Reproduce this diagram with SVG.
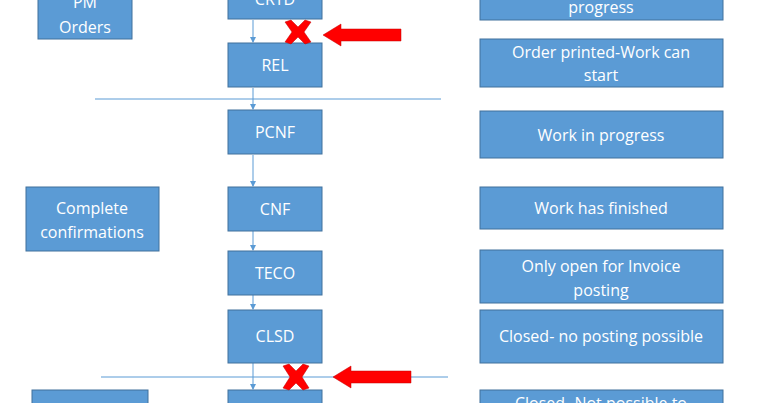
<svg xmlns="http://www.w3.org/2000/svg" width="768" height="403" viewBox="0 0 768 403">
<style>
.b{fill:#5b9bd5;stroke:#41719c;stroke-width:1}
.t{font-family:"Open Sans","Liberation Sans",sans-serif;font-size:16px;fill:#fff;text-anchor:middle}
.c{stroke:#5b9bd5;stroke-width:1;fill:none}
.h{stroke:#5b9bd5;stroke-width:1}
</style>
<defs><marker id="a" markerWidth="6" markerHeight="6" refX="5" refY="3" orient="auto" markerUnits="userSpaceOnUse"><path d="M0,0L6,3L0,6z" fill="#5b9bd5"/></marker></defs>
<rect width="768" height="403" fill="#fff"/>
<g id="lines"><line class="h" x1="95" y1="99" x2="441" y2="99"/><line class="h" x1="101" y1="377" x2="448" y2="377"/></g>
<g id="connectors">
<path class="c" d="M253,20V42" marker-end="url(#a)"/>
<path class="c" d="M253,88V109" marker-end="url(#a)"/>
<path class="c" d="M253,155V186" marker-end="url(#a)"/>
<path class="c" d="M253,231V250" marker-end="url(#a)"/>
<path class="c" d="M253,295V309" marker-end="url(#a)"/>
<path class="c" d="M253,363V389" marker-end="url(#a)"/>
</g>
<g id="crtd"><rect class="b" x="228" y="-30" width="94" height="49"/><text class="t" x="275" y="5">CRTD</text></g>
<g id="rel"><rect class="b" x="228" y="43" width="94" height="44"/><text class="t" x="275" y="71">REL</text></g>
<g id="pcnf"><rect class="b" x="228" y="110" width="94" height="44"/><text class="t" x="275" y="138">PCNF</text></g>
<g id="cnf"><rect class="b" x="228" y="187" width="94" height="44"/><text class="t" x="275" y="215">CNF</text></g>
<g id="teco"><rect class="b" x="228" y="251" width="94" height="44"/><text class="t" x="275" y="279">TECO</text></g>
<g id="clsd"><rect class="b" x="228" y="310" width="94" height="53"/><text class="t" x="275" y="342">CLSD</text></g>
<g id="bottom-mid"><rect class="b" x="228" y="390" width="94" height="30"/></g>
<g id="pm"><rect class="b" x="38" y="-20" width="94" height="59"/><text class="t" x="85" y="8">PM</text><text class="t" x="85" y="33">Orders</text></g>
<g id="complete"><rect class="b" x="26" y="187" width="133" height="64"/><text class="t" x="92" y="214">Complete</text><text class="t" x="92" y="238">confirmations</text></g>
<g id="bottom-left"><rect class="b" x="32" y="390" width="116" height="30"/></g>
<g id="d-top"><rect class="b" x="480" y="-30" width="243" height="50"/><text class="t" x="601" y="13">progress</text></g>
<g id="d-rel"><rect class="b" x="480" y="39" width="243" height="48"/><text class="t" x="601" y="58">Order printed-Work can</text><text class="t" x="601" y="81">start</text></g>
<g id="d-pcnf"><rect class="b" x="480" y="111" width="243" height="47"/><text class="t" x="601" y="141">Work in progress</text></g>
<g id="d-cnf"><rect class="b" x="480" y="187" width="243" height="42"/><text class="t" x="601" y="214">Work has finished</text></g>
<g id="d-teco"><rect class="b" x="480" y="250" width="243" height="53"/><text class="t" x="601" y="272">Only open for Invoice</text><text class="t" x="601" y="296">posting</text></g>
<g id="d-clsd"><rect class="b" x="480" y="310" width="243" height="53"/><text class="t" x="601" y="342">Closed- no posting possible</text></g>
<g id="d-bottom"><rect class="b" x="480" y="390" width="243" height="30"/><text class="t" x="601" y="409">Closed- Not possible to</text></g>
<g id="marks" fill="#ff0000" stroke="#c00000" stroke-width="0.5">
<path d="M285,22L291,20L298,27L305,20L311,22L304,32L311,42L305,44L298,37L291,44L285,42L292,32z"/>
<path d="M323,35L341,24V29H401V41H341V46z"/>
<path d="M283,366L289,364L296,371L303,364L309,366L302,377L309,388L303,390L296,383L289,390L283,388L290,377z"/>
<path d="M333,377L351,366V371H411V383H351V388z"/>
</g>
</svg>
